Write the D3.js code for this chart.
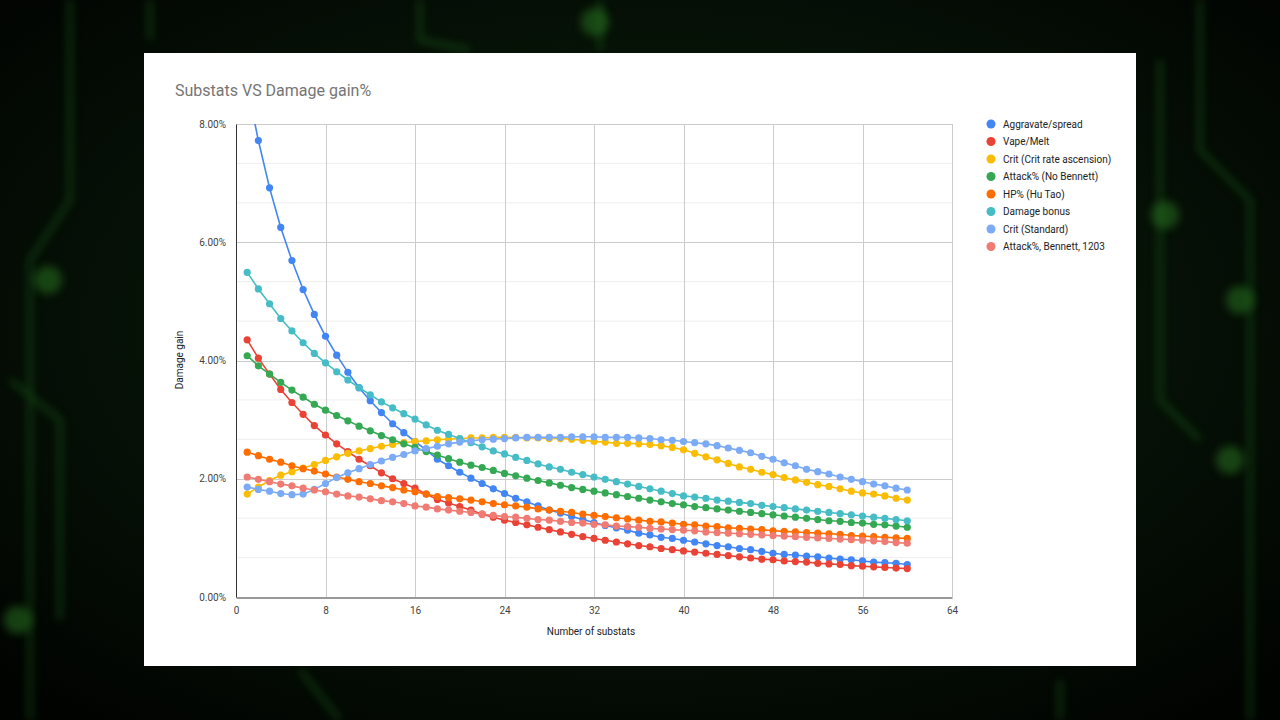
<!DOCTYPE html>
<html><head><meta charset="utf-8">
<script src="https://cdnjs.cloudflare.com/ajax/libs/d3/7.8.5/d3.min.js"></script>
<style>html,body{margin:0;padding:0;background:#000;}svg{display:block;}</style>
</head><body>
<svg id="c" width="1280" height="720"></svg>
<script>
const substats = d3.range(1, 61);
const seriesNames = ["Aggravate/spread","Vape/Melt","Crit (Crit rate ascension)","Attack% (No Bennett)","HP% (Hu Tao)","Damage bonus","Crit (Standard)","Attack%, Bennett, 1203"];
const seriesColors = ["#4285f4","#ea4335","#fbbc04","#34a853","#ff6d01","#46bdc6","#7baaf7","#f07b72"];
const aggravate = [8.65,7.72,6.92,6.25,5.69,5.20,4.78,4.41,4.09,3.80,3.54,3.32,3.12,2.93,2.78,2.63,2.49,2.33,2.22,2.11,2.01,1.92,1.83,1.75,1.67,1.61,1.54,1.47,1.42,1.36,1.31,1.26,1.21,1.17,1.13,1.08,1.05,1.01,0.99,0.96,0.93,0.90,0.87,0.85,0.82,0.80,0.77,0.74,0.72,0.71,0.69,0.68,0.66,0.64,0.63,0.61,0.59,0.58,0.57,0.55];
const vapeMelt = [4.35,4.04,3.77,3.51,3.29,3.09,2.90,2.74,2.59,2.46,2.33,2.22,2.10,2.00,1.92,1.84,1.74,1.65,1.59,1.53,1.47,1.40,1.35,1.30,1.26,1.22,1.18,1.14,1.10,1.06,1.02,0.99,0.96,0.93,0.90,0.87,0.85,0.82,0.80,0.78,0.76,0.74,0.72,0.70,0.68,0.66,0.64,0.63,0.61,0.60,0.59,0.57,0.56,0.55,0.53,0.52,0.51,0.50,0.49,0.48];
const critAscension = [1.74,1.86,1.97,2.06,2.12,2.18,2.24,2.31,2.37,2.43,2.47,2.51,2.55,2.58,2.61,2.63,2.64,2.66,2.67,2.68,2.69,2.69,2.70,2.70,2.70,2.69,2.69,2.68,2.68,2.67,2.65,2.63,2.62,2.60,2.60,2.59,2.58,2.56,2.53,2.49,2.43,2.37,2.32,2.26,2.20,2.16,2.11,2.07,2.02,1.98,1.94,1.90,1.87,1.83,1.79,1.76,1.74,1.71,1.67,1.64];
const attackNoBennett = [4.08,3.91,3.77,3.63,3.50,3.38,3.26,3.16,3.07,2.98,2.89,2.81,2.73,2.66,2.59,2.53,2.46,2.40,2.34,2.28,2.23,2.19,2.14,2.09,2.05,2.01,1.97,1.93,1.89,1.85,1.82,1.79,1.76,1.73,1.70,1.67,1.64,1.61,1.58,1.56,1.53,1.51,1.49,1.47,1.45,1.43,1.41,1.39,1.37,1.35,1.33,1.31,1.29,1.28,1.26,1.25,1.23,1.22,1.20,1.18];
const hpHuTao = [2.45,2.39,2.33,2.28,2.22,2.17,2.13,2.08,2.03,1.99,1.95,1.92,1.88,1.85,1.81,1.78,1.74,1.70,1.68,1.66,1.64,1.61,1.58,1.56,1.54,1.52,1.49,1.47,1.45,1.43,1.40,1.38,1.36,1.34,1.32,1.30,1.28,1.27,1.25,1.23,1.22,1.20,1.19,1.17,1.16,1.15,1.14,1.12,1.11,1.10,1.09,1.08,1.07,1.06,1.04,1.03,1.02,1.01,1.00,0.99];
const damageBonus = [5.49,5.21,4.96,4.71,4.50,4.30,4.12,3.96,3.81,3.67,3.54,3.42,3.30,3.20,3.10,3.01,2.91,2.82,2.75,2.68,2.61,2.54,2.47,2.42,2.36,2.31,2.25,2.20,2.16,2.11,2.07,2.03,1.99,1.95,1.91,1.87,1.83,1.79,1.75,1.71,1.69,1.67,1.64,1.62,1.60,1.58,1.55,1.53,1.51,1.49,1.47,1.45,1.43,1.41,1.39,1.37,1.35,1.33,1.31,1.29];
const critStandard = [1.86,1.82,1.79,1.75,1.73,1.74,1.82,1.92,2.02,2.10,2.17,2.24,2.30,2.36,2.41,2.47,2.51,2.55,2.59,2.62,2.64,2.66,2.67,2.68,2.69,2.70,2.70,2.70,2.70,2.71,2.71,2.71,2.70,2.70,2.70,2.69,2.68,2.66,2.65,2.63,2.61,2.59,2.56,2.52,2.48,2.44,2.38,2.33,2.27,2.22,2.16,2.12,2.08,2.03,1.99,1.95,1.91,1.88,1.84,1.81];
const attackBennett = [2.03,1.99,1.95,1.91,1.88,1.84,1.81,1.78,1.74,1.71,1.69,1.66,1.63,1.61,1.58,1.54,1.52,1.49,1.47,1.45,1.43,1.40,1.38,1.36,1.35,1.33,1.31,1.30,1.28,1.26,1.25,1.23,1.22,1.20,1.19,1.18,1.16,1.15,1.14,1.13,1.12,1.10,1.09,1.08,1.07,1.06,1.05,1.04,1.03,1.02,1.01,1.00,0.99,0.98,0.97,0.96,0.95,0.94,0.92,0.91];
const xTicks = [0,8,16,24,32,40,48,56,64];
const yTicks = [0,2,4,6,8];
const titleText = "Substats VS Damage gain%";
const xTitle = "Number of substats";
const yTitle = "Damage gain";

const seriesValues = [aggravate, vapeMelt, critAscension, attackNoBennett, hpHuTao, damageBonus, critStandard, attackBennett];

const svg = d3.select("#c");
// background
const defs = svg.append("defs");
const rg = defs.append("radialGradient").attr("id","bg").attr("cx","50%").attr("cy","45%").attr("r","70%");
rg.append("stop").attr("offset","0%").attr("stop-color","#0d240e");
rg.append("stop").attr("offset","100%").attr("stop-color","#010301");
svg.append("rect").attr("width",1280).attr("height",720).attr("fill","url(#bg)");
defs.append("filter").attr("id","blur").append("feGaussianBlur").attr("stdDeviation",4);
const deco = svg.append("g").attr("filter","url(#blur)").attr("stroke","#1f6a1c").attr("stroke-width",4).attr("fill","none").attr("opacity",0.55);
[[ [70,0],[70,200],[30,260],[30,720] ], [ [150,0],[150,40] ], [ [1200,0],[1200,150],[1250,200],[1250,720] ], [ [1160,60],[1160,400],[1200,440] ], [ [600,0],[600,50] ], [ [420,0],[420,40],[470,50] ], [ [1060,680],[1060,720] ], [ [300,670],[340,720] ], [ [10,380],[60,420],[60,620] ]].forEach(p=>{
  deco.append("path").attr("d", d3.line()(p));
});
svg.append("g").attr("filter","url(#blur)").attr("fill","#2a7a22").attr("opacity",0.5).selectAll("circle").data([[48,280],[1165,215],[1230,460],[18,620],[595,22],[1240,300]]).join("circle").attr("cx",d=>d[0]).attr("cy",d=>d[1]).attr("r",14);

// panel
svg.append("rect").attr("x",144).attr("y",53).attr("width",992).attr("height",613).attr("fill","#ffffff");

const x = d3.scaleLinear().domain([0,64]).range([236,952]);
const y = d3.scaleLinear().domain([0,8]).range([597,124]);

svg.append("text").attr("x",175).attr("y",96).attr("font-family","Roboto, Arial, sans-serif").attr("font-size",16).attr("fill","#757575").text(titleText);

// minor gridlines
const minorY = [];
for (let i=0;i<4;i++){ minorY.push(i*2+2/3, i*2+4/3); }
svg.append("g").selectAll("line").data(minorY).join("line")
  .attr("x1",236).attr("x2",952).attr("y1",d=>y(d)).attr("y2",d=>y(d)).attr("stroke","#eeeeee").attr("stroke-width",1);
// major gridlines
svg.append("g").selectAll("line").data(yTicks.filter(d=>d>0)).join("line")
  .attr("x1",236).attr("x2",952).attr("y1",d=>Math.round(y(d))+0.5).attr("y2",d=>Math.round(y(d))+0.5).attr("stroke","#cccccc");
svg.append("g").selectAll("line").data(xTicks.filter(d=>d>0)).join("line")
  .attr("y1",124).attr("y2",597).attr("x1",d=>Math.round(x(d))+0.5).attr("x2",d=>Math.round(x(d))+0.5).attr("stroke","#cccccc");

// axes
const yAxis = d3.axisLeft(y).tickValues(yTicks).tickFormat(d=>d3.format(".2f")(d)+"%").tickSize(0).tickPadding(10);
const gy = svg.append("g").attr("transform","translate(236,0)").call(yAxis);
gy.select(".domain").attr("stroke","#333333");
gy.selectAll("text").attr("font-family","Roboto, Arial, sans-serif").attr("font-size",10).attr("fill","#444444");
const xAxis = d3.axisBottom(x).tickValues(xTicks).tickSize(0).tickPadding(9);
const gx = svg.append("g").attr("transform","translate(0,597.5)").call(xAxis);
gx.select(".domain").attr("stroke","#333333");
gx.selectAll("text").attr("font-family","Roboto, Arial, sans-serif").attr("font-size",10).attr("fill","#444444");

svg.append("text").attr("x",591).attr("y",635).attr("text-anchor","middle").attr("font-family","Roboto, Arial, sans-serif").attr("font-size",10).attr("fill","#222222").text(xTitle);
svg.append("text").attr("transform","translate(183,360) rotate(-90)").attr("text-anchor","middle").attr("font-family","Roboto, Arial, sans-serif").attr("font-size",10).attr("fill","#222222").text(yTitle);

// clip
defs.append("clipPath").attr("id","plot").append("rect").attr("x",236).attr("y",124).attr("width",716).attr("height",474);
const plot = svg.append("g").attr("clip-path","url(#plot)");
const line = d3.line().x((d,i)=>x(substats[i])).y(d=>y(d));
seriesValues.forEach((vals,si)=>{
  const g = plot.append("g");
  g.append("path").attr("d", line(vals)).attr("fill","none").attr("stroke",seriesColors[si]).attr("stroke-width",1.6);
  g.selectAll("circle").data(vals).join("circle").attr("cx",(d,i)=>x(substats[i])).attr("cy",d=>y(d)).attr("r",3.6).attr("fill",seriesColors[si]);
});

// legend
const lg = svg.append("g");
seriesNames.forEach((n,i)=>{
  const yy = 124 + i*17.5;
  lg.append("circle").attr("cx",991).attr("cy",yy).attr("r",4.5).attr("fill",seriesColors[i]);
  lg.append("text").attr("x",1003).attr("y",yy+3.5).attr("font-family","Roboto, Arial, sans-serif").attr("font-size",10).attr("fill","#222222").text(n);
});
</script>
</body></html>
